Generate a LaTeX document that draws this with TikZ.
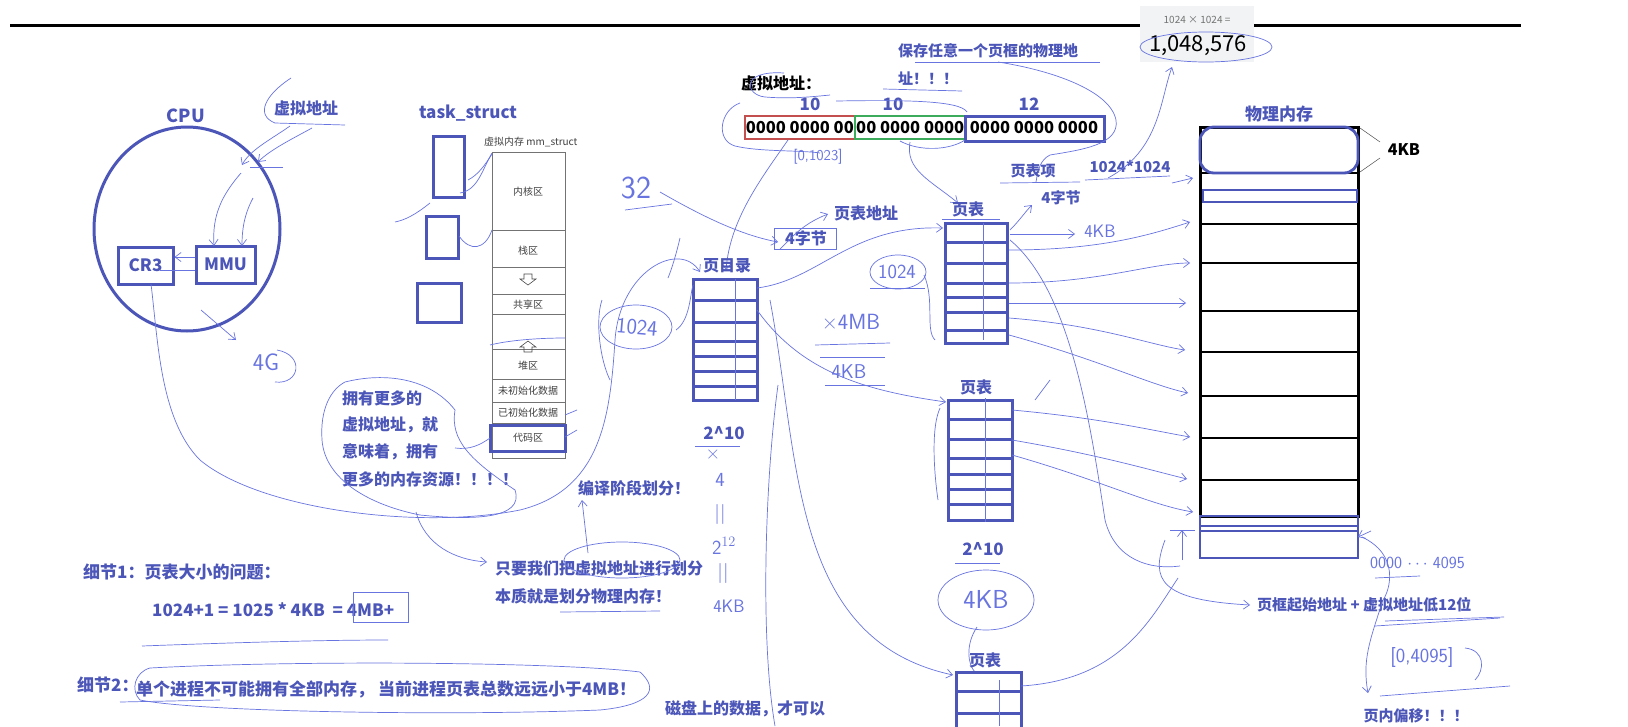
\documentclass[tikz,border=0pt]{standalone}
\usepackage{fontspec}
\setmainfont{Noto Sans CJK SC}
\usetikzlibrary{arrows.meta}
\definecolor{bl}{RGB}{75,86,184}
\definecolor{hd}{RGB}{104,116,224}
\definecolor{calcbg}{RGB}{241,243,244}
\definecolor{rd}{RGB}{196,79,79}
\definecolor{gn}{RGB}{60,172,92}
\tikzset{
 lbl/.style={text=bl,font=\bfseries\fontsize{16}{19}\selectfont,inner sep=0pt},
 lblk/.style={text=black,font=\bfseries\fontsize{16}{19}\selectfont,inner sep=0pt},
 tbox/.style={draw=bl,line width=3pt},
 hand/.style={draw=hd,line width=0.7pt},
 harr/.style={hand,-{Straight Barb[length=6pt,width=9pt]}},
 hw/.style={text=hd,font=\sffamily\fontsize{20}{22}\selectfont,inner sep=0pt},
 memtxt/.style={font=\fontsize{10}{12}\selectfont,text=black!75,inner sep=0pt},
 memline/.style={draw=black!55,line width=0.8pt},
 pm/.style={draw=black,line width=3pt},
 bits/.style={text=black,font=\bfseries\fontsize{16.5}{19}\selectfont,inner sep=0pt},
}
\begin{document}
\begin{tikzpicture}[x=1pt,y=-1pt]
\useasboundingbox (0,0) rectangle (1628,726);
\clip (0,0) rectangle (1628,726);
\fill[white] (0,0) rectangle (1628,726);

% ---------- top rule and calculator ----------
\fill[calcbg] (1140,6) rectangle (1254,62);
\draw[line width=3pt] (10,25) -- (1140,25);
\draw[line width=3pt] (1254,25) -- (1521,25);
\node[text=black!55,font=\fontsize{10}{12}\selectfont,inner sep=0pt] (calcq) at (1197,20) {1024 × 1024 =};
\node[text=black,font=\fontsize{22}{24}\selectfont,inner sep=0pt] (calcr) at (1198,46) {1,048,576};
\draw[hand] (1206,47) ellipse (66 and 15);

% ---------- CPU ----------
\node[lbl,font=\bfseries\fontsize{18}{20}\selectfont] (cpulbl) at (186,116) {CPU};
\draw[bl,line width=3pt] (187,229) ellipse (93 and 102);
\node[tbox,minimum width=55pt,minimum height=37pt,inner sep=0pt,lbl,font=\bfseries\fontsize{17}{19}\selectfont] (cr3) at (145.5,265.5) {CR3};
\node[tbox,minimum width=59pt,minimum height=37pt,inner sep=0pt,lbl,font=\bfseries\fontsize{17}{19}\selectfont] (mmu) at (225.5,264.5) {MMU};
\node[lbl] (va1) at (306,108) {虚拟地址};
\draw[hand] (291,78) .. controls (265,95) and (255,115) .. (275,123) -- (345,125);
\draw[harr] (290,126) .. controls (270,140) and (250,150) .. (242,165);
\draw[harr] (312,128) .. controls (290,140) and (270,150) .. (258,162);
\draw[hand] (250,167) -- (283,167);
\coordinate (mmutopL) at (214,246);
\coordinate (mmutopR) at (242,246);
\draw[harr] (241,173) .. controls (222,195) and (212,215) .. (mmutopL);
\draw[harr] (253,198) .. controls (244,215) and (242,230) .. (mmutopR);
\draw[harr] (mmu.west |- 0,257) -- (cr3.east |- 0,257);
\draw[hand] (160,270) -- (mmu.west |- 0,270);
\draw[harr] (201,310) -- (236,340);
\node[hw,font=\sffamily\fontsize{24}{26}\selectfont] (fourg) at (266,362) {4G};
\draw[hand] (277,350) .. controls (305,355) and (300,385) .. (275,382);

% ---------- task_struct ----------
\node[lbl,font=\bfseries\fontsize{17}{19}\selectfont] (tslbl) at (468,113) {task\_struct};
\draw[tbox] (433,136) rectangle (464,197);
\draw[tbox] (426,216) rectangle (458,258);
\draw[tbox] (417,283) rectangle (461,322);
\node[memtxt,anchor=west] (mmlbl) at (484,142) {虚拟内存 mm\_struct};
\draw[memline] (492,152) rectangle (565,458);
\foreach \yy in {230,267,294,314,349,379,402,423} {\draw[memline] (492,\yy) -- (565,\yy);}
\node[memtxt] (kern) at (528,192) {内核区};
\node[memtxt] (stack) at (528,251) {栈区};
\draw[black!70,line width=0.6pt] (524,274) -- (532,274) -- (532,279) -- (536,279) -- (528,285) -- (520,279) -- (524,279) -- cycle;
\node[memtxt] (share) at (528,305) {共享区};
\draw[black!70,line width=0.6pt] (524,352) -- (532,352) -- (532,347) -- (536,347) -- (528,341) -- (520,347) -- (524,347) -- cycle;
\node[memtxt] (heap) at (528,366) {堆区};
\node[memtxt] (bss) at (528,391) {未初始化数据};
\node[memtxt] (data) at (528,413) {已初始化数据};
\draw[tbox] (490,425) rectangle (565,451);
\node[memtxt] (code) at (528,438) {代码区};
\draw[hand] (460,193) .. controls (478,190) and (482,170) .. (492,153);
\draw[hand] (468,180) .. controls (478,175) and (485,165) .. (492,154);
\draw[hand] (430,203) .. controls (415,215) and (405,220) .. (395,222);
\draw[hand] (459,236) .. controls (470,252) and (485,250) .. (492,230);
\draw[hand] (490,345) .. controls (510,340) and (540,338) .. (565,338);
\draw[hand] (565,415) -- (577,410);
\draw[hand] (565,437) -- (577,430);

% ---------- text block left ----------
\node[lbl,anchor=west] (more1) at (342,398) {拥有更多的};
\node[lbl,anchor=west] (more2) at (342,425) {虚拟地址，就};
\node[lbl,anchor=west] (more3) at (342,452) {意味着，拥有};
\node[lbl,anchor=west] (more4) at (342,479) {更多的内存资源！！！！};
\draw[hand] (345,382) .. controls (385,372) and (430,378) .. (455,410)
  .. controls (450,440) and (470,460) .. (515,490)
  .. controls (525,520) and (470,520) .. (420,515)
  .. controls (370,505) and (325,480) .. (322,440)
  .. controls (320,410) and (330,390) .. (345,382);
\draw[hand] (455,448) .. controls (470,450) and (480,445) .. (490,438);
\draw[harr] (416,512) .. controls (425,545) and (455,560) .. (487,562);

% CR3 long curve to page directory
\coordinate (pdtopL) at (700,272);
\draw[harr] (151,284) .. controls (158,340) and (160,420) .. (200,460)
  .. controls (260,510) and (420,530) .. (520,510)
  .. controls (600,490) and (610,420) .. (615,340)
  .. controls (620,270) and (680,240) .. (pdtopL);

% ---------- bottom left details ----------
\node[lbl,anchor=west,font=\bfseries\fontsize{17}{20}\selectfont] (d1) at (83,572) {细节1：页表大小的问题：};
\node[lbl,anchor=west,font=\bfseries\fontsize{17}{20}\selectfont] (eq) at (152,610) {1024+1 = 1025 * 4KB \ = 4MB+};
\draw[hand] (353,592) rectangle (408,622);
\draw[hand] (142,646) .. controls (250,642) and (330,640) .. (388,640);
\node[lbl,anchor=west,font=\bfseries\fontsize{17}{20}\selectfont] (d2) at (77,685) {细节2：};
\node[lbl,anchor=west,font=\bfseries\fontsize{17}{20}\selectfont] (d2t) at (136,689) {单个进程不可能拥有全部内存， 当前进程页表总数远远小于4MB！};
\draw[hand] (150,668) .. controls (300,660) and (560,662) .. (640,672)
  .. controls (660,690) and (650,705) .. (600,710)
  .. controls (450,716) and (200,712) .. (140,700)
  .. controls (130,690) and (135,672) .. (150,668);
\draw[hand] (120,702) -- (220,700);

% ---------- middle text ----------
\node[lbl,anchor=west] (only1) at (495,568) {只要我们把虚拟地址进行划分};
\node[lbl,anchor=west] (only2) at (495,596) {本质就是划分物理内存！};
\draw[hand] (560,612) -- (660,611);
\draw[hand] (622,560) ellipse (58 and 18);
\node[lbl,anchor=west] (comp) at (578,488) {编译阶段划分！};
\draw[harr] (588,553) -- (582,500);
\node[lbl,anchor=west] (disk) at (665,709) {磁盘上的数据，才可以};

% ---------- virtual address ----------
\node[lblk] (valbl) at (781,83) {虚拟地址：};
\draw[hand] (784,73) .. controls (740,70) and (745,95) .. (765,97) .. controls (790,99) and (810,97) .. (830,95);
\node[lbl,font=\bfseries\fontsize{17}{19}\selectfont] (b10a) at (810,104) {10};
\node[lbl,font=\bfseries\fontsize{17}{19}\selectfont] (b10b) at (893,104) {10};
\node[lbl,font=\bfseries\fontsize{17}{19}\selectfont] (b12) at (1029,104) {12};
\draw[rd,line width=2.5pt] (745,116) rectangle (855,139);
\draw[gn,line width=2.5pt] (855,116) rectangle (965,139);
\draw[bl,line width=3pt] (965,116) rectangle (1104,141);
\node[bits,anchor=east] (bitsR) at (854,128) {0000 0000 00};
\node[bits,anchor=west] (bitsG) at (856,128) {00 0000 0000};
\node[bits] (bitsB) at (1034,128) {0000 0000 0000};
\node[lbl,font=\bfseries\fontsize{15}{18}\selectfont,anchor=west] (save1) at (898,51) {保存任意一个页框的物理地};
\node[lbl,font=\bfseries\fontsize{15}{18}\selectfont,anchor=west] (save2) at (898,79) {址！！！};
\draw[hand] (915,62) -- (1100,62);
\draw[hand] (883,89) -- (962,91);
\draw[hand] (740,103) .. controls (720,110) and (715,140) .. (735,146)
  .. controls (760,152) and (800,150) .. (820,153);
\draw[hand] (836,101) .. controls (900,100) and (960,100) .. (967,112);
\draw[hand] (998,62) .. controls (1050,70) and (1110,90) .. (1116,120)
  .. controls (1120,145) and (1080,150) .. (1050,155)
  .. controls (1040,160) and (1038,170) .. (1036,182);
\draw[hand] (900,141) .. controls (920,152) and (950,150) .. (965,140);
\node[hw,font=\sffamily\fontsize{15}{17}\selectfont] (r1023) at (818,157) {[0,1023]};
\coordinate (pdtopR) at (726,270);
\draw[harr] (788,140) .. controls (760,180) and (730,220) .. (pdtopR);
\coordinate (pt1top) at (958,203);
\draw[harr] (910,142) .. controls (905,170) and (930,180) .. (pt1top);

% ---------- 32 / 4 bytes ----------
\node[hw,font=\sffamily\fontsize{32}{34}\selectfont] (n32) at (636,188) {32};
\draw[hand] (625,210) -- (672,204);
\coordinate (fbL) at (778,242);
\draw[harr] (660,192) .. controls (700,215) and (740,235) .. (fbL);
\node[lbl] (ptaddr) at (866,213) {页表地址};
\node[lbl] (fb1) at (806,238) {4字节};
\draw[hand] (774,228) rectangle (836,249);
\draw[harr] (780,249) .. controls (790,240) and (800,225) .. (828,214);
\draw[hand] (680,238) .. controls (676,255) and (672,268) .. (668,278);

% ---------- page directory ----------
\node[lbl] (pdlbl) at (727,266) {页目录};
\draw[tbox] (693,279) rectangle (757,400);
\foreach \yy in {300,322,341,356,371,386} {\draw[bl,line width=3pt] (693,\yy) -- (757,\yy);}
\draw[hand] (735,279) -- (735,400);
\node[hw,font=\sffamily\fontsize{22}{24}\selectfont,rotate=-5] (c1024a) at (637,327) {1024};
\draw[hand] (636,327) ellipse (36 and 22);
\draw[hand] (676,330) .. controls (690,320) and (690,295) .. (693,285);
\draw[hand] (602,300) .. controls (595,320) and (600,360) .. (610,380);

% ---------- page table 1 ----------
\node[lbl] (pt1lbl) at (968,209) {页表};
\draw[hand] (942,219) -- (1000,219);
\draw[tbox] (945,223) rectangle (1007,343);
\foreach \yy in {242,263,283,297,312,330} {\draw[bl,line width=3pt] (945,\yy) -- (1007,\yy);}
\draw[hand] (983,223) -- (983,340);
\coordinate (pt1L) at (943,228);
\draw[harr] (757,288) .. controls (820,280) and (850,225) .. (pt1L);
\node[lbl,font=\bfseries\fontsize{15}{18}\selectfont] (pte) at (1033,171) {页表项};
\draw[hand] (1000,183) -- (1080,182);
\node[lbl,font=\bfseries\fontsize{15}{18}\selectfont] (fb2) at (1061,198) {4字节};
\draw[harr] (1010,230) .. controls (1020,220) and (1025,212) .. (1032,205);
\node[lbl,font=\bfseries\fontsize{15}{18}\selectfont] (k1024) at (1130,166) {1024*1024};
\draw[hand] (1085,180) -- (1170,176);
\draw[harr] (1108,178) .. controls (1160,150) and (1160,100) .. (1172,67);
\node[hw,font=\sffamily\fontsize{18}{20}\selectfont] (kb1) at (1100,231) {4KB};
\draw[harr] (1010,234) -- (1075,234);
\node[hw,font=\sffamily\fontsize{20}{22}\selectfont] (c1024b) at (897,272) {1024};
\draw[hand] (898,272) ellipse (28 and 17);
\draw[hand] (870,288) -- (925,288);
\draw[hand] (924,275) .. controls (935,300) and (925,330) .. (935,340);
\node[hw,font=\sffamily\fontsize{22}{24}\selectfont] (x4mb) at (851,322) {×4MB};
\draw[hand] (815,345) -- (890,343);
\draw[hand] (820,357) -- (885,357);
\node[hw,font=\sffamily\fontsize{20}{22}\selectfont] (kb2) at (849,372) {4KB};
\draw[hand] (825,385) -- (885,385);

% ---------- page table 2 ----------
\node[lbl] (pt2lbl) at (976,387) {页表};
\draw[tbox] (948,400) rectangle (1012,520);
\foreach \yy in {419,439,458,474,489,504} {\draw[bl,line width=3pt] (948,\yy) -- (1012,\yy);}
\draw[hand] (985,398) -- (985,522);
\coordinate (pt2L) at (946,402);
\draw[harr] (757,310) .. controls (800,370) and (860,390) .. (pt2L);
\draw[hand] (940,408) .. controls (930,430) and (935,480) .. (938,500);
\draw[hand] (1035,400) -- (1050,380);

% ---------- 2^10 x 4 = 2^12 = 4KB ----------
\node[lbl,font=\bfseries\fontsize{17}{19}\selectfont] (p210a) at (724,433) {2\textasciicircum 10};
\draw[hand] (695,446) -- (740,446);
\node[hw] (mx) at (713,455) {×};
\node[hw] (m4) at (720,480) {4};
\node[hw] (meq1) at (720,514) {||};
\node[hw] (m212) at (724,546) {2$^{12}$};
\node[hw] (meq2) at (723,573) {||};
\node[hw,font=\sffamily\fontsize{18}{20}\selectfont] (m4kb) at (729,606) {4KB};

% ---------- page table 3 ----------
\node[lbl,font=\bfseries\fontsize{17}{19}\selectfont] (p210b) at (983,549) {2\textasciicircum 10};
\draw[hand] (955,563) -- (1000,563);
\node[hw,font=\sffamily\fontsize{26}{28}\selectfont] (c4kb) at (986,599) {4KB};
\draw[hand] (986,600) ellipse (48 and 30);
\draw[hand] (977,627) .. controls (965,645) and (968,665) .. (975,672);
\node[lbl] (pt3lbl) at (985,660) {页表};
\draw[tbox] (956,672) rectangle (1021,740);
\foreach \yy in {691,713} {\draw[bl,line width=3pt] (956,\yy) -- (1021,\yy);}
\draw[hand] (999,680) -- (999,726);
\coordinate (pt3L) at (953,675);
\draw[harr] (770,300) .. controls (800,460) and (790,640) .. (pt3L);
\draw[hand] (778,385) .. controls (765,480) and (760,640) .. (775,726);

% ---------- physical memory ----------
\node[lbl,font=\bfseries\fontsize{17}{19}\selectfont] (pmlbl) at (1279,114) {物理内存};
\draw[pm] (1200,127) rectangle (1358,516);
\foreach \yy in {173,224,263,311,352,396,438,480} {\draw[black,line width=2.5pt] (1200,\yy) -- (1358,\yy);}
\draw[bl,line width=2.8pt,rounded corners=14pt] (1200,127) rectangle (1358,173);
\draw[bl,line width=2.5pt] (1203,190) rectangle (1357,202);
\draw[bl,line width=2.8pt] (1200,516) rectangle (1358,558);
\draw[bl,line width=2pt] (1200,526) -- (1358,526);
\draw[bl,line width=2pt] (1200,531) -- (1358,531);
\node[lblk,font=\bfseries\fontsize{16}{18}\selectfont] (kb4) at (1404,150) {4KB};
\draw[black!70,line width=0.5pt] (1360,128) -- (1380,142);
\draw[black!70,line width=0.5pt] (1380,158) -- (1360,172);

\coordinate (m1) at (1193,178);
\coordinate (m2) at (1190,222);
\coordinate (m3) at (1190,263);
\coordinate (m4) at (1186,303);
\coordinate (m5) at (1185,350);
\coordinate (m6) at (1188,393);
\coordinate (m7) at (1190,437);
\coordinate (m8) at (1187,479);
\coordinate (m9) at (1193,512);
\draw[harr] (1172,183) -- (m1);
\draw[harr] (1009,250) .. controls (1100,250) and (1150,235) .. (m2);
\draw[harr] (1009,283) .. controls (1100,283) and (1150,263) .. (m3);
\draw[harr] (1009,303) -- (m4);
\draw[harr] (1009,318) .. controls (1100,325) and (1150,345) .. (m5);
\draw[harr] (1009,335) .. controls (1100,360) and (1150,385) .. (m6);
\draw[harr] (1012,410) .. controls (1100,418) and (1150,430) .. (m7);
\draw[harr] (1012,440) .. controls (1100,455) and (1150,470) .. (m8);
\draw[harr] (1012,455) .. controls (1100,480) and (1150,505) .. (m9);
\draw[hand] (1010,240) .. controls (1070,290) and (1090,420) .. (1105,520) .. controls (1115,560) and (1150,570) .. (1180,566);
\draw[hand] (1021,686) .. controls (1120,680) and (1150,620) .. (1178,578);

% bottom right notes
\draw[harr] (1182,560) -- (1182,530);
\draw[hand] (1170,530) -- (1195,530);
\coordinate (pfL) at (1250,605);
\draw[harr] (1165,540) .. controls (1150,580) and (1160,600) .. (pfL);
\node[lbl,font=\bfseries\fontsize{15}{18}\selectfont,anchor=west] (pfaddr) at (1257,605) {页框起始地址 + 虚拟地址低12位};
\draw[hand] (1385,621) -- (1504,617);
\draw[hand] (1375,626) -- (1500,618);
\node[hw,font=\sffamily\fontsize{17}{19}\selectfont,anchor=west] (bits4095) at (1370,563) {0000 $\cdots$ 4095};
\draw[hand] (1375,578) -- (1420,576);
\draw[harr] (1371,531) -- (1358,537);
\draw[harr] (1362,537) .. controls (1400,555) and (1390,590) .. (1383,600) .. controls (1370,640) and (1362,660) .. (1368,693);
\node[hw,font=\sffamily\fontsize{20}{22}\selectfont] (r4095) at (1422,657) {[0,4095]};
\draw[hand] (1380,696) -- (1510,686);
\draw[hand] (1465,648) .. controls (1485,650) and (1485,670) .. (1475,680);
\node[lbl,font=\bfseries\fontsize{15}{18}\selectfont] (inoff) at (1416,716) {页内偏移！！！};
\end{tikzpicture}
\end{document}
